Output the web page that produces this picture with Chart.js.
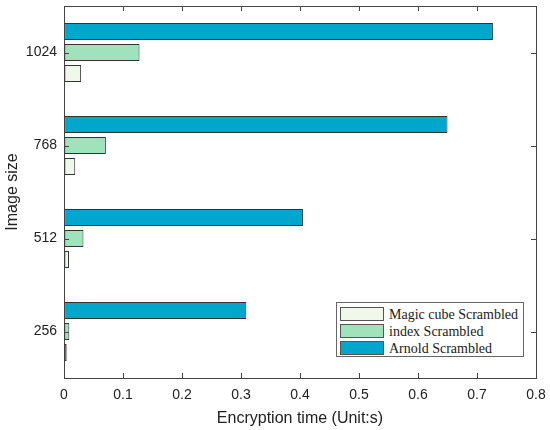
<!DOCTYPE html>
<html>
<head>
<meta charset="utf-8">
<script src="https://cdn.jsdelivr.net/npm/chart.js@4.4.1/dist/chart.umd.min.js"></script>
<style>
  body { margin: 0; background: #fff; }
  #wrap { position: relative; width: 550px; height: 430px; }
  #legend {
    position: absolute; left: 336px; top: 302px; width: 186px; height: 53px;
    border: 1px solid #666; background: #fff; box-sizing: content-box;
    font-family: "Liberation Serif", "Times New Roman", serif; font-size: 14px; color: #222;
  }
  #legend .row { position: absolute; left: 3px; height: 17px; line-height: 17px; white-space: nowrap; }
  #legend .sw { display: inline-block; width: 42px; height: 12px; border: 1px solid #555; vertical-align: -2px; margin-right: 5px; }
</style>
</head>
<body>
<div id="wrap">
  <canvas id="barChart"></canvas>
  <div id="legend"></div>
</div>
<script>
// image sizes, top to bottom as in the picture
var sizes = ['1024', '768', '512', '256'];
// encryption time in seconds
var magicCube = [0.029, 0.019, 0.0085, 0.0045];
var indexScr = [0.128, 0.071, 0.033, 0.009];
var arnold = [0.727, 0.650, 0.405, 0.309];
var xTicks = [0, 0.1, 0.2, 0.3, 0.4, 0.5, 0.6, 0.7, 0.8];

var seriesNames = ['Magic cube Scrambled', 'index Scrambled', 'Arnold Scrambled'];
var seriesColors = ['#f0f8ec', '#9fe2bc', '#00a6cc'];

var axisColor = '#444';
var tickFont = { family: 'Liberation Sans, Arial, sans-serif', size: 14 };
var titleFont = { family: 'Liberation Sans, Arial, sans-serif', size: 16 };

// frame on top/right and inward tick marks, like matlab
var boxTicks = {
  id: 'boxTicks',
  afterDraw: function(chart) {
    var ctx = chart.ctx, a = chart.chartArea;
    var xs = chart.scales.x, ys = chart.scales.y;
    ctx.save();
    ctx.strokeStyle = axisColor;
    ctx.lineWidth = 1;
    ctx.beginPath();
    ctx.moveTo(a.left, a.top + 0.5);
    ctx.lineTo(a.right + 0.5, a.top + 0.5);
    ctx.lineTo(a.right + 0.5, a.bottom);
    xTicks.forEach(function(v) {
      var px = Math.round(xs.getPixelForValue(v)) + 0.5;
      ctx.moveTo(px, a.bottom);
      ctx.lineTo(px, a.bottom - 5);
      ctx.moveTo(px, a.top);
      ctx.lineTo(px, a.top + 5);
    });
    sizes.forEach(function(s, i) {
      var py = Math.round(ys.getPixelForValue(i)) + 0.5;
      ctx.moveTo(a.left, py);
      ctx.lineTo(a.left + 5, py);
      ctx.moveTo(a.right, py);
      ctx.lineTo(a.right - 5, py);
    });
    ctx.stroke();
    ctx.restore();
  }
};

var ctx = document.getElementById('barChart').getContext('2d');
new Chart(ctx, {
  type: 'bar',
  data: {
    labels: sizes,
    datasets: [
      { label: seriesNames[2], data: arnold, backgroundColor: seriesColors[2] },
      { label: seriesNames[1], data: indexScr, backgroundColor: seriesColors[1] },
      { label: seriesNames[0], data: magicCube, backgroundColor: seriesColors[0] }
    ]
  },
  options: {
    indexAxis: 'y',
    responsive: true,
    maintainAspectRatio: false,
    animation: false,
    layout: { padding: { top: 6, right: 14, left: 0, bottom: 0 } },
    datasets: {
      bar: {
        categoryPercentage: 0.68,
        barPercentage: 0.81,
        borderColor: '#333',
        borderWidth: 1,
        borderSkipped: false
      }
    },
    plugins: {
      legend: { display: false },
      tooltip: { enabled: false }
    },
    scales: {
      x: {
        min: 0,
        max: 0.8,
        afterFit: function(s) {
          s.height = 52;
          s.paddingLeft = 0;
          s.paddingRight = 0;
        },
        ticks: {
          stepSize: 0.1,
          color: '#222',
          font: tickFont,
          padding: 9,
          callback: function(v) { return String(Math.round(v * 10) / 10); }
        },
        grid: { drawOnChartArea: false, drawTicks: false },
        border: { color: axisColor, width: 1 },
        title: {
          display: true,
          text: 'Encryption time (Unit:s)',
          color: '#222',
          font: titleFont,
          padding: { top: 4, bottom: 2 }
        }
      },
      y: {
        afterFit: function(s) {
          s.width = 64;
          s.paddingTop = 0;
          s.paddingBottom = 0;
        },
        ticks: { color: '#222', font: tickFont, padding: 7 },
        grid: { drawOnChartArea: false, drawTicks: false },
        border: { color: axisColor, width: 1 },
        title: {
          display: true,
          text: 'Image size',
          color: '#222',
          font: titleFont,
          padding: { top: 3, bottom: 4 }
        }
      }
    }
  },
  plugins: [boxTicks]
});

// legend inside the plot, bottom right
var leg = document.getElementById('legend');
seriesNames.forEach(function(name, i) {
  var row = document.createElement('div');
  row.className = 'row';
  row.style.top = (3 + i * 17) + 'px';
  row.innerHTML = '<span class="sw" style="background:' + seriesColors[i] + '"></span>' + name;
  leg.appendChild(row);
});
</script>
</body>
</html>
